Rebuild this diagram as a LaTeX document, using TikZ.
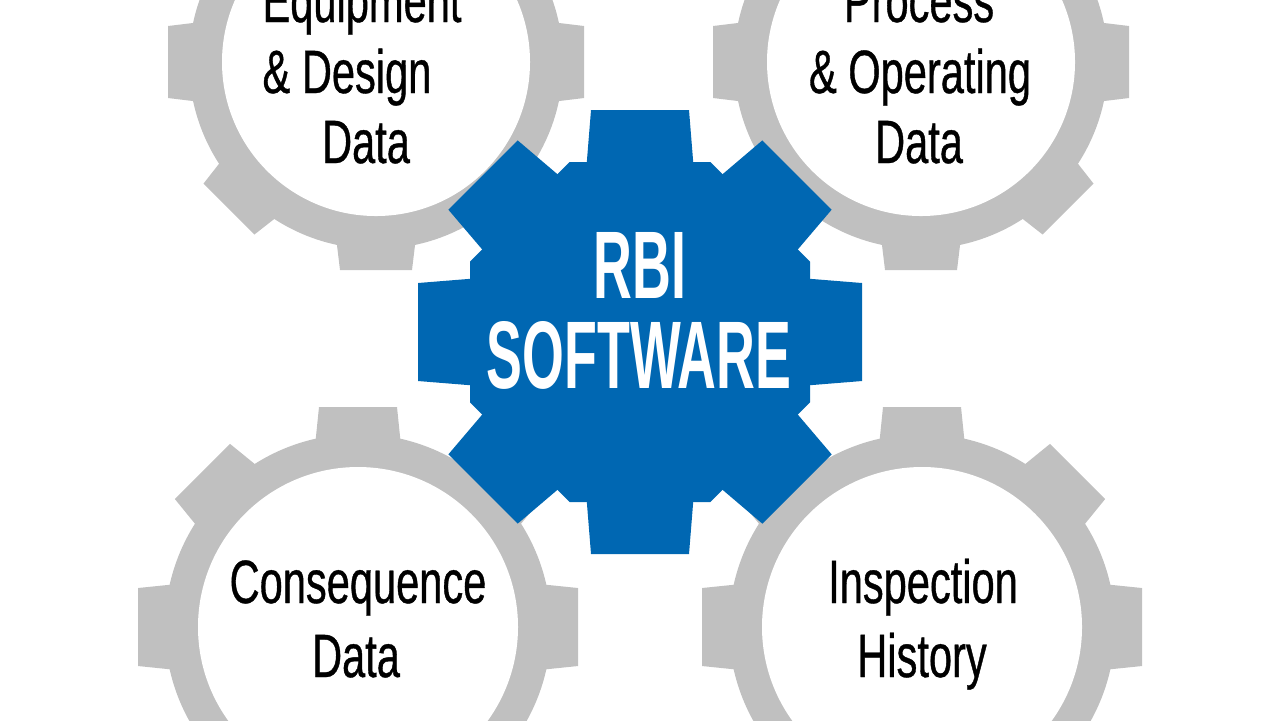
\documentclass[tikz,border=0pt]{standalone}
\usepackage{fontspec}
\setmainfont{Liberation Sans}
\newfontfamily\labelfont[FakeStretch=0.68,FakeBold=0.6]{Liberation Sans}
\newfontfamily\rbifont[FakeStretch=0.56]{Liberation Sans}
\usetikzlibrary{positioning}

\definecolor{gearGray}{RGB}{192,192,192}
\definecolor{rbiBlue}{RGB}{0,103,178}

\tikzset{
  geartext/.style={font=\labelfont\fontsize{17.4}{20}\selectfont, anchor=base, inner sep=0pt},
  rbitext/.style={font=\rbifont\bfseries\fontsize{27.3}{30}\selectfont, text=white, anchor=base, inner sep=0pt}
}

% grey ring gear: centre x, centre y, ring radius, tooth radius, tooth half width, hole radius
\newcommand{\graygear}[6]{%
  \fill[gearGray] (#1,#2) circle[radius=#3];
  \foreach \a in {0,45,...,315}
    \fill[gearGray, shift={(#1,#2)}, rotate=\a] (#3-12,-#5-4) -- (#4,-#5) -- (#4,#5) -- (#3-12,#5+4) -- cycle;
  \fill[white] (#1,#2) circle[radius=#6];
}

\begin{document}
\begin{tikzpicture}[x=0.01cm,y=-0.01cm]
  \useasboundingbox (0,0) rectangle (1280,720);
  \clip (0,0) rectangle (1280,720);

  % outer gears
  \graygear{376}{62}{187}{208}{36}{154}
  \graygear{921}{62}{187}{208}{36}{154}
  \graygear{358}{627}{193}{220}{39}{160}
  \graygear{922}{627}{193}{220}{39}{160}

  % centre gear
  \begin{scope}[shift={(640,332)}]
    \fill[rbiBlue] (22.5:184) \foreach \a in {67.5,112.5,...,337.5} { -- (\a:184) } -- cycle;
    \foreach \a in {0,45,...,315}
      \fill[rbiBlue, rotate=\a] (160,-54) -- (222,-49) -- (222,49) -- (160,54) -- cycle;
  \end{scope}

  \node[rbitext] (rbi) at (640,298) {RBI};
  \node[rbitext] (soft) at (639,388) {SOFTWARE};

  \node[geartext] (equip) at (362,22) {Equipment};
  \node[geartext] (design) at (347,93) {\& Design};
  \node[geartext] (datatl) at (366,163) {Data};

  \node[geartext] (proc) at (919,22) {Process};
  \node[geartext] (oper) at (920,93) {\& Operating};
  \node[geartext] (datatr) at (919,163) {Data};

  \node[geartext] (conseq) at (358,603) {Consequence};
  \node[geartext] (databl) at (356,677) {Data};

  \node[geartext] (insp) at (923,603) {Inspection};
  \node[geartext] (hist) at (922,677) {History};
\end{tikzpicture}
\end{document}
